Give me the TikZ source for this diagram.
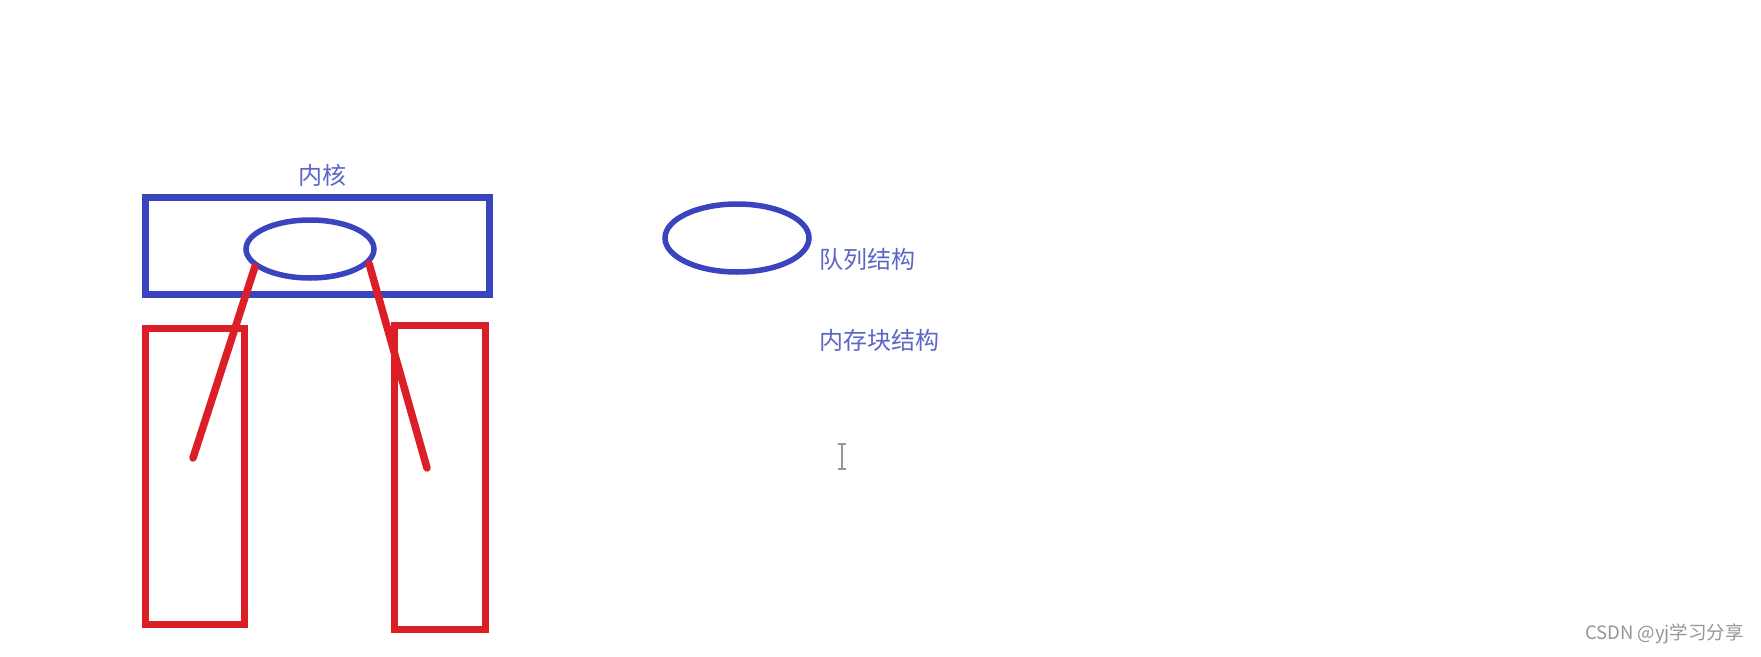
\documentclass[tikz,border=0pt]{standalone}
\usepackage{fontspec}
\newfontfamily\cjk{Noto Sans CJK SC}
\usetikzlibrary{shapes.geometric}
\definecolor{kblue}{RGB}{58,68,190}
\definecolor{tblue}{RGB}{92,102,200}
\definecolor{kred}{RGB}{220,30,38}
\definecolor{wgray}{RGB}{150,150,150}
\tikzset{
  bluebox/.style={draw=kblue, line width=7pt},
  redbox/.style={draw=kred, line width=7pt},
  blueoval/.style={draw=kblue, line width=5.5pt},
  redline/.style={draw=kred, line width=7.5pt, line cap=round},
  lbl/.style={text=tblue, font=\cjk\fontsize{24}{28}\selectfont, inner sep=0pt},
}
\begin{document}
\begin{tikzpicture}[x=1pt,y=-1pt]
\useasboundingbox[fill=white] (0,0) rectangle (1761,656);
% kernel box
\draw[bluebox] (145,197) rectangle (489,294);
\node[lbl] (kl) at (322,175) {内核};
% inner oval
\node[blueoval, ellipse, minimum width=128pt, minimum height=58pt, inner sep=0pt] (q1) at (310,249) {};
% red blocks
\draw[redbox] (145,328) rectangle (244,624);
\draw[redbox] (394,325) rectangle (485,629);
\coordinate (e1) at (193,458);
\coordinate (e2) at (427,468);
\draw[redline] (q1.198) -- (e1);
\draw[redline] (q1.-14) -- (e2);
% legend
\node[blueoval, ellipse, minimum width=144pt, minimum height=68pt, inner sep=0pt] (q2) at (737,238) {};
\node[lbl, anchor=west] (ql) at (819,259) {队列结构};
\node[lbl, anchor=west] (ml) at (819,340) {内存块结构};
% text cursor
\draw[wgray, line width=1.4pt] (842,444) -- (842,469);
\draw[wgray, line width=1.2pt] (838,444) -- (846,444) (838,469) -- (846,469);
% watermark
\node[text=wgray, font=\fontsize{18.5}{22}\selectfont\cjk, anchor=east, inner sep=0pt] (wm) at (1744,634) {CSDN @yj学习分享};
\end{tikzpicture}
\end{document}
